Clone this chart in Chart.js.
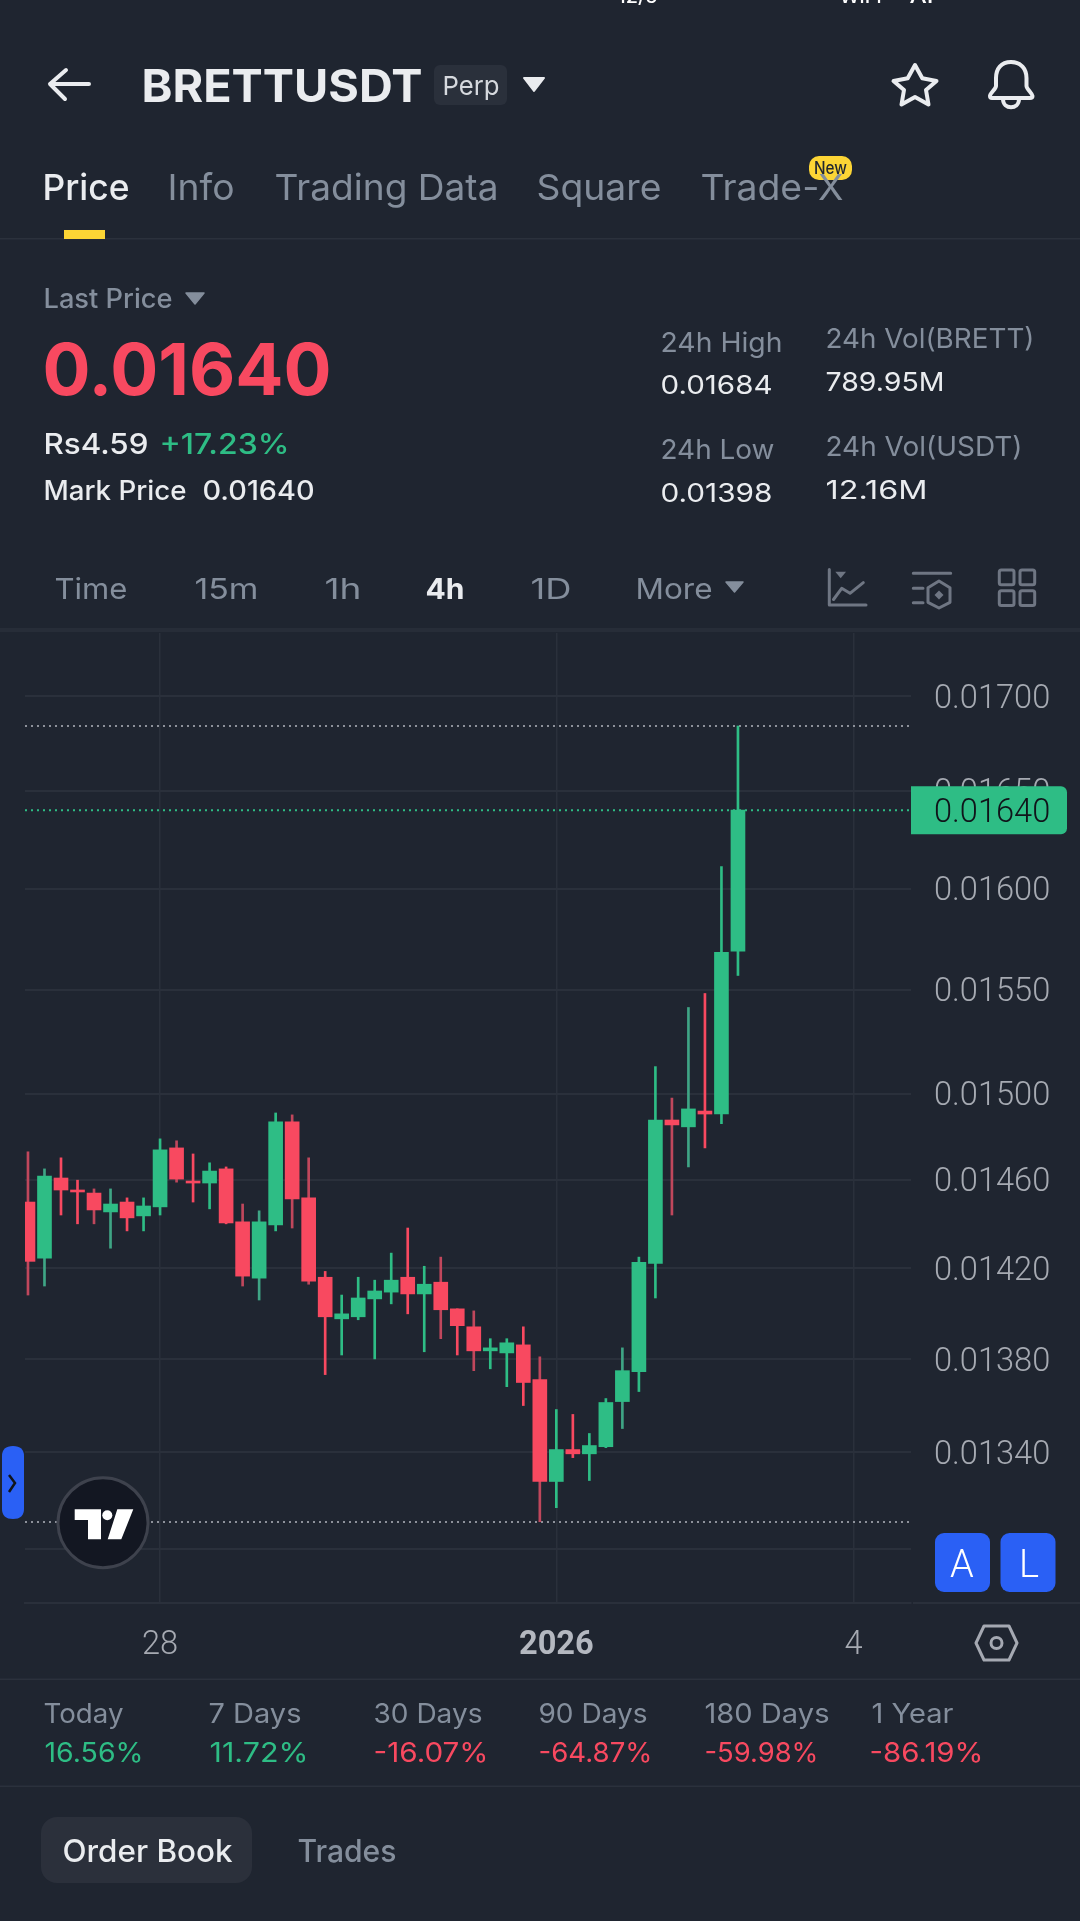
<!DOCTYPE html>
<html><head><meta charset="utf-8">
<script src="https://cdn.jsdelivr.net/npm/chart.js@4/dist/chart.umd.min.js"></script>
<style>
html,body{margin:0;padding:0;background:#1f2530;width:1080px;height:1921px;overflow:hidden}
#cv{position:absolute;left:0;top:630px}
#ui{position:absolute;left:0;top:0}
#ui text{font-family:Inter,sans-serif}
</style></head><body>
<canvas id="cv" width="1080" height="1050" style="width:1080px;height:1050px"></canvas>
<svg id="ui" width="1080" height="1921" viewBox="0 0 1080 1921" xmlns="http://www.w3.org/2000/svg"></svg>
<script>
// ---- chart data (4h candles) ----
const candleOpen=[0.014498,0.014244,0.014608,0.014553,0.014539,0.014453,0.014498,0.014435,0.014476,0.014747,0.014594,0.014585,0.014650,0.014408,0.014155,0.014394,0.014868,0.014517,0.014159,0.013975,0.013984,0.014063,0.014093,0.014159,0.014085,0.014137,0.014019,0.013940,0.013835,0.013826,0.013861,0.013710,0.013278,0.013412,0.013394,0.013424,0.013616,0.013745,0.014221,0.014877,0.014845,0.014919,0.014905,0.015688];
const candleHigh=[0.014729,0.014650,0.014701,0.014598,0.014558,0.014558,0.014517,0.014517,0.014789,0.014780,0.014719,0.014678,0.014659,0.014489,0.014458,0.014910,0.014901,0.014701,0.014185,0.014080,0.014159,0.014146,0.014267,0.014380,0.014208,0.014249,0.014019,0.014010,0.013888,0.013888,0.013940,0.013809,0.013582,0.013561,0.013480,0.013629,0.013848,0.014249,0.015129,0.014980,0.015413,0.015481,0.016111,0.016840];
const candleLow=[0.014080,0.014120,0.014439,0.014399,0.014399,0.014289,0.014367,0.014367,0.014439,0.014589,0.014498,0.014467,0.014399,0.014120,0.014058,0.014367,0.014380,0.014128,0.013732,0.013817,0.013971,0.013800,0.014041,0.013997,0.013831,0.013888,0.013817,0.013749,0.013757,0.013680,0.013599,0.013111,0.013169,0.013378,0.013282,0.013420,0.013501,0.013659,0.014067,0.014439,0.014659,0.014747,0.014860,0.015569];
const candleClose=[0.014230,0.014617,0.014553,0.014544,0.014462,0.014489,0.014426,0.014480,0.014738,0.014603,0.014585,0.014640,0.014403,0.014164,0.014408,0.014868,0.014512,0.014142,0.013984,0.013997,0.014067,0.014098,0.014146,0.014085,0.014128,0.014015,0.013945,0.013835,0.013848,0.013870,0.013698,0.013278,0.013412,0.013394,0.013429,0.013612,0.013749,0.014226,0.014877,0.014854,0.014929,0.014905,0.015683,0.016400];
const yTickValues=[0.017,0.0165,0.016,0.0155,0.015,0.0146,0.0142,0.0138,0.0134,0.013];
const yTickLabels=['0.01700','0.01650','0.01600','0.01550','0.01500','0.01460','0.01420','0.01380','0.01340',''];
const xTickPositions=[8,32,50];
const xTickLabels=['28','2026','4'];
const dayHigh=0.01684, dayLow=0.01311, lastPrice=0.0164;
const lastPriceLabel='0.01640';
const softWicks=[0,1,4,5,9,13,14,16,17,25,27,31,36,39,40];

const UP='#2ebd85', DOWN='#f84960', GRID='#2a303b';
const xMin=-0.18, xMax=53.48;
const isUp=candleClose.map((c,i)=>c>=candleOpen[i]);
const colors=isUp.map(u=>u?UP:DOWN);
const wickColors=isUp.map((u,i)=>softWicks.includes(i)?(u?'#3fa585':'#c0475c'):(u?UP:DOWN));

const labelShift={id:'labelShift',beforeDraw(chart){
  chart.scales.y.getLabelItems().forEach(it=>{if(!it._shifted){it.options.translation[1]+=3.5;it._shifted=true;}});
}};
const tagPlugin={id:'tag',afterDraw(chart){
  const c=chart.ctx,y=chart.scales.y.getPixelForValue(lastPrice);
  c.save();c.fillStyle=UP;c.beginPath();c.roundRect(911,y-24,156,48,[0,6,6,0]);c.fill();
  c.fillStyle='#10141a';c.font='300 32.6px Roboto';c.textAlign='left';c.textBaseline='middle';
  c.fillText(lastPriceLabel,934,y+4);c.restore();
}};
const hline=(v,col,o)=>({type:'line',data:[{x:xMin,y:v},{x:xMax,y:v}],borderColor:col,borderWidth:2,borderDash:[2,4],pointRadius:0,order:o});
const noPad=s=>{s.paddingTop=s.paddingBottom=s.paddingLeft=s.paddingRight=0;};

new Chart(document.getElementById('cv'),{
  type:'bar',
  data:{datasets:[
    hline(dayHigh,'#8d919a',5),hline(dayLow,'#8d919a',5),hline(lastPrice,UP,4),
    {type:'bar',grouped:false,order:2,barThickness:2,backgroundColor:wickColors,
     data:candleHigh.map((h,i)=>({x:i,y:[candleLow[i],h]}))},
    {type:'bar',grouped:false,order:1,barThickness:14,backgroundColor:colors,minBarLength:2,
     data:candleOpen.map((o,i)=>({x:i,y:[o,candleClose[i]]}))}
  ]},
  options:{responsive:false,animation:false,devicePixelRatio:1,
    layout:{padding:{left:25,top:3,right:0,bottom:0}},
    plugins:{legend:{display:false},tooltip:{enabled:false}},
    scales:{
      x:{type:'linear',offset:false,min:xMin,max:xMax,
        afterBuildTicks(s){s.ticks=xTickPositions.map(v=>({value:v}));},
        afterFit(s){s.height=77;noPad(s);},
        grid:{color:GRID,lineWidth:1.5,drawTicks:false,offset:false},
        border:{display:true,color:GRID,width:2},
        ticks:{autoSkip:false,maxRotation:0,padding:23,includeBounds:false,
          callback:(v,i)=>xTickLabels[i],
          color:ctx=>ctx.index===1?'#b4b8c0':'#a6aab2',
          font:ctx=>({family:'Roboto',size:32.6,weight:ctx.index===1?'700':'300'})}},
      y:{type:'logarithmic',position:'right',min:0.01278,max:0.01734,
        afterBuildTicks(s){s.ticks=yTickValues.map(v=>({value:v}));},
        afterFit(s){s.width=169;noPad(s);},
        grid:{color:GRID,lineWidth:2,drawTicks:false},
        border:{display:false},
        ticks:{autoSkip:false,padding:23,callback:(v,i)=>yTickLabels[i],color:'#a6aab2',
          font:{family:'Roboto',size:32.6,weight:'300'}}}
    }
  },
  plugins:[labelShift,tagPlugin]
});

// ---- app chrome ----
const G='#848e9c',W='#eaecef';
const texts=[
 ['BRETTUSDT',142,102,279,45,700,W],['Perp',443,94.5,55,26,400,'#d6d9de'],
 ['Price',43,200,85,36,500,W],['Info',168,200,65,36,400,G],['Trading Data',275,200,222,36,400,G],['Square',537,200,123,36,400,G],['Trade-X',701,200,141,36,400,G],
 ['Last Price',44,307.5,127,27,500,G],['0.01640',43,395,287,72,700,DOWN],
 ['Rs4.59',44,454,103,29,500,W],['+17.23%',160,454,128,29,500,UP],
 ['Mark Price',44,500,141,27,500,W],['0.01640',203,500,110,27,500,W],
 ['24h High',661,351.5,120,27,400,G],['0.01684',661,394,110,26,400,W],
 ['24h Low',661,459,112,27,400,G],['0.01398',661,502,110,26,400,W],
 ['24h Vol(BRETT)',826,348,207,27,400,G],['789.95M',826,391,117,26,400,W],
 ['24h Vol(USDT)',826,455.5,195,27,400,G],['12.16M',826,499,100,26,400,W],
 ['Time',55,599.3,71,29,400,G],['15m',195,599.3,62,29,400,G],['1h',325,599.3,35,29,400,G],['4h',426,599.3,37,29,700,W],['1D',531,599.3,39,29,400,G],['More',636,599.3,75,29,400,G],
 ['Today',44,1722.7,78,27,400,G],['7 Days',209,1722.7,91,27,400,G],['30 Days',374,1722.7,107,27,400,G],['90 Days',539,1722.7,107,27,400,G],['180 Days',705,1722.7,123,27,400,G],['1 Year',872,1722.7,80,27,400,G],
 ['16.56%',45,1761.7,97,27,400,UP],['11.72%',210,1761.7,97,27,400,UP],['-16.07%',374,1761.7,113,27,400,DOWN],['-64.87%',539,1761.7,112,27,400,DOWN],['-59.98%',705,1761.7,112,27,400,DOWN],['-86.19%',870,1761.7,112,27,400,DOWN],
 ['Order Book',63,1861.7,168,31,500,W],['Trades',298,1861.7,97,31,500,G],
 ['12/5',618,3,38,18,500,'#fff'],['WiFi',840,3,40,18,500,'#fff'],['AI',910,3,22,18,500,'#fff']
];
const svgParts=`
<rect x="0" y="238" width="1080" height="1.5" fill="#2b313c"/>
<rect x="64" y="230" width="41" height="9" fill="#fcd535"/>
<rect x="0" y="628" width="1080" height="4" fill="#272d38"/>
<rect x="913" y="1602" width="167" height="2" fill="${GRID}"/>
<rect x="0" y="1678.5" width="1080" height="1.5" fill="#2b313c"/>
<rect x="0" y="1785.5" width="1080" height="1.5" fill="#2b313c"/>
<rect x="434" y="65" width="73" height="40" rx="6" fill="#2a303b"/>
<rect x="41" y="1817" width="211" height="66" rx="16" fill="#2b303b"/>
<path d="M89 84H50M66 70L50 84L65 99" fill="none" stroke="${W}" stroke-width="4" stroke-linecap="round" stroke-linejoin="round"/>
<path d="M524 78H544L534 91Z" fill="${W}" stroke="${W}" stroke-width="2" stroke-linejoin="round"/>
<path d="M915 65L922.3 78.3L936.5 81L926 90L928.5 104.5L915 97L901.5 104.5L904 90L893.5 81L907.7 78.3Z" fill="none" stroke="${W}" stroke-width="4" stroke-linejoin="round"/>
<path d="M1011 62C1001 62 996 69 996 78L996 86C996 89 990 93 990 96Q990 98 992 98L1030 98Q1032.5 98 1032.5 96C1032 93 1026.5 89 1026.5 86L1026.5 78C1026.5 69 1021 62 1011 62Z M1003 99C1003 110 1019 110 1019 99" fill="none" stroke="${W}" stroke-width="4" stroke-linejoin="round"/>
<rect x="809" y="156" width="43" height="24" rx="10" fill="#fcd535"/>
<path d="M186 293H204L195 304Z" fill="${G}" stroke="${G}" stroke-width="1.5" stroke-linejoin="round"/>
<path d="M726 582H743L734.5 592Z" fill="${G}" stroke="${G}" stroke-width="1.5" stroke-linejoin="round"/>
<g fill="none" stroke="#6f7683" stroke-width="3" stroke-linecap="round" stroke-linejoin="round">
<path d="M829.3 569.5V605H866M833.5 599.5L841.7 588.3L850 593.3L863.3 582.7"/>
<path d="M913.3 573.3H950.7M913.3 588.3H923M913.3 602.7H923M939 581L950 587.7V602.3L939 608L928 602.3V587.7Z"/>
<rect x="999.3" y="570" width="14.7" height="14.7" rx="2"/><rect x="1020" y="570" width="14.7" height="14.7" rx="2"/>
<rect x="999.3" y="590.7" width="14.7" height="14.7" rx="2"/><rect x="1020" y="590.7" width="14.7" height="14.7" rx="2"/>
</g>
<path d="M835.3 571.7H846L840.7 578.3Z" fill="#6f7683"/><path d="M939 590.5L943.5 595L939 599.5L934.5 595Z" fill="#6f7683"/>
<path d="M2 1456Q2 1446 13 1446Q24 1446 24 1456V1509Q24 1519 13 1519Q2 1519 2 1509Z" fill="#2a60f5"/>
<path d="M9 1475L15 1483L9 1492" fill="none" stroke="#10141a" stroke-width="2.5"/>
<circle cx="103" cy="1522.7" r="45" fill="#131722" stroke="#3e424d" stroke-width="3"/>
<path d="M74.7 1509.3H101V1539.3H88V1520H74.7Z M117.3 1509.3H133.3L121.3 1539.3H107.7Z" fill="#fff"/><circle cx="107.3" cy="1515.3" r="5" fill="#fff"/>
<rect x="935" y="1533" width="55" height="59" rx="9" fill="#2a60f5"/><rect x="1000.5" y="1533" width="55" height="59" rx="9" fill="#2a60f5"/>
<path d="M976 1643L984 1626H1009L1017 1643L1009 1660H984Z" fill="none" stroke="#a5a9b2" stroke-width="3" stroke-linejoin="round"/><circle cx="996.5" cy="1643" r="5.5" fill="none" stroke="#a5a9b2" stroke-width="3"/>`;
const ui=document.getElementById('ui');
const esc=s=>s.replace(/&/g,'&amp;');
let out=svgParts;
for(const [s,x,y,w,size,wt,col] of texts){
  out+=`<text x="${x-0.5}" y="${y}" textLength="${w+2}" lengthAdjust="spacingAndGlyphs" font-size="${size}" font-weight="${wt}" fill="${col}">${esc(s)}</text>`;
}
out+=`<text x="814" y="174" textLength="33" lengthAdjust="spacingAndGlyphs" font-size="17" font-weight="500" fill="#1f2530">New</text>`;
out+=`<text x="950" y="1577" style="font-family:Roboto" font-size="38" font-weight="300" fill="#fff">A</text>`;
out+=`<text x="1019" y="1577" style="font-family:Roboto" font-size="38" font-weight="300" fill="#fff">L</text>`;
ui.innerHTML=out;
</script>
</body></html>
